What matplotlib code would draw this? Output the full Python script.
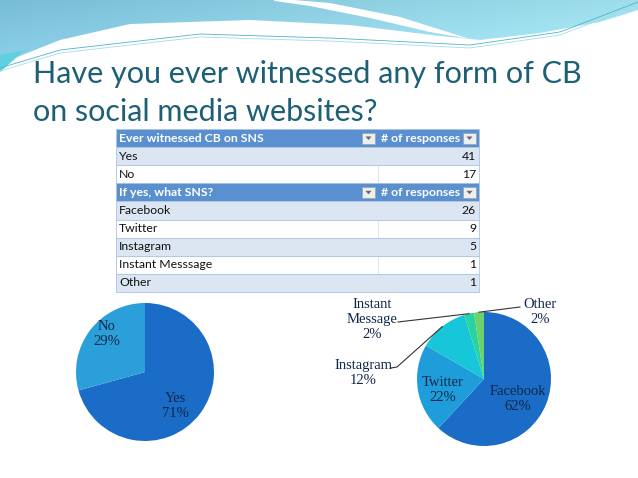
import numpy as np
import matplotlib
matplotlib.use("Agg")
import matplotlib.pyplot as plt
from matplotlib.patches import Rectangle, Polygon

# ---- data ----
title_lines = ["Have you ever witnessed any form of CB", "on social media websites?"]

header1 = ["Ever witnessed CB on SNS", "# of responses"]
witness_labels = ["Yes", "No"]
witness_counts = [41, 17]

header2 = ["If yes, what SNS?", "# of responses"]
sns_labels = ["Facebook", "Twitter", "Instagram", "Instant Messsage", "Other"]
sns_counts = [26, 9, 5, 1, 1]

left_pie_labels = ["Yes", "No"]
left_pie_pcts = [71, 29]
left_pie_colors = ["#1a6cc6", "#2a9fda"]

right_pie_labels = ["Facebook", "Twitter", "Instagram", "Instant\nMessage", "Other"]
right_pie_pcts = [62, 22, 12, 2, 2]
right_pie_colors = ["#1a6cc6", "#1f9ddb", "#17c6d9", "#27d3a0", "#6cd26a"]

W, H = 638, 478
fig = plt.figure(figsize=(W / 100, H / 100), dpi=100)
bg = fig.add_axes([0, 0, 1, 1])
bg.set_xlim(0, W)
bg.set_ylim(H, 0)
bg.axis("off")
bg.set_zorder(5)


def smooth(pts, n=200):
    xs, ys = zip(*pts)
    xx = np.linspace(xs[0], xs[-1], n)
    return xx, np.interp(xx, xs, ys)


# ---- background swoosh ----
gx = np.linspace(0, 1, 300)
gy = np.linspace(0, 1, 80)
GX, GY = np.meshgrid(gx, gy)
c_left = np.array([0.47, 0.74, 0.84])
c_right = np.array([0.62, 0.87, 0.92])
img = c_left[None, None, :] * (1 - GX[..., None]) + c_right[None, None, :] * GX[..., None]
img = np.clip(img + 0.10 * GY[..., None], 0, 1)
im = bg.imshow(img, extent=[0, W, 80, 0], aspect="auto", zorder=0)

band = [(0, 0), (W, 0), (W, 10), (600, 22), (540, 33), (480, 40), (440, 36), (350, 25),
        (250, 20), (130, 24), (60, 40), (0, 64)]
poly = Polygon(band, closed=True, facecolor="none", edgecolor="none")
bg.add_patch(poly)
im.set_clip_path(poly)

# white swoosh through the band
sw = [(270, -2), (330, 3), (400, 17), (470, 39), (430, 32), (370, 18), (310, 6), (275, 1)]
bg.add_patch(Polygon(sw, closed=True, facecolor="white", edgecolor="none", zorder=1))
bg.add_patch(Polygon([(0, 55), (25, 50), (0, 72)], closed=True, facecolor="#5fd0e0",
                     edgecolor="none", zorder=1))

# thin lines
for off, col in [(0, "#4fb3ca"), (3, "#a6dbe8")]:
    x, y = smooth([(0, 68 + off), (60, 50 + off), (200, 34 + off), (330, 38 + off),
                   (470, 45 + off), (560, 32 + off), (638, 2 + off)])
    bg.plot(x, y, color=col, lw=0.6, zorder=2)

# ---- title ----
for line, base in zip(title_lines, [83, 121]):
    bg.text(33, base, line, fontsize=22, family="Lato", color="#1d5f74",
            va="baseline", ha="left")

# ---- table ----
tx0, tx1, tsplit = 116, 479, 378
ty0, rh = 129, 18.1
hdr_col = "#5a8fd0"
light = "#dce6f3"
fs_tab = 8.8

rows = [("h", header1)]
rows += [("d", (l, c)) for l, c in zip(witness_labels, witness_counts)]
rows += [("h", header2)]
rows += [("d", (l, c)) for l, c in zip(sns_labels, sns_counts)]

stripe = 0
for i, (kind, content) in enumerate(rows):
    y = ty0 + i * rh
    if kind == "h":
        bg.add_patch(Rectangle((tx0, y), tx1 - tx0, rh, facecolor=hdr_col,
                               edgecolor="#a9c4e6", lw=0.6, zorder=3))
        bg.text(tx0 + 3, y + rh / 2, content[0], fontsize=fs_tab, family="Lato",
                weight="bold", color="white", va="center", ha="left", zorder=4)
        bg.text(tsplit + 3, y + rh / 2, content[1], fontsize=fs_tab, family="Lato",
                weight="bold", color="white", va="center", ha="left", zorder=4)
        for bx in (362, 463):
            bg.add_patch(Rectangle((bx, y + 3.5), 13, 11, facecolor="#eeeeee",
                                   edgecolor="#9aa8b8", lw=0.6, zorder=4))
            bg.add_patch(Polygon([(bx + 3.5, y + 7.5), (bx + 9.5, y + 7.5), (bx + 6.5, y + 11)],
                                 closed=True, facecolor="#666666", edgecolor="none", zorder=5))
        stripe = 0
    else:
        fc = light if stripe % 2 == 0 else "white"
        stripe += 1
        bg.add_patch(Rectangle((tx0, y), tx1 - tx0, rh, facecolor=fc,
                               edgecolor="#a9c4e6", lw=0.6, zorder=3))
        if fc == "white":
            bg.plot([tsplit, tsplit], [y + 1, y + rh - 1], color="#dde6f0", lw=0.8, zorder=4)
        bg.text(tx0 + 3, y + rh / 2, content[0], fontsize=fs_tab, family="Lato",
                color="#111111", va="center", ha="left", zorder=4)
        bg.text(tx1 - 3, y + rh / 2, str(content[1]), fontsize=fs_tab, family="Lato",
                color="#111111", va="center", ha="right", zorder=4)

# ---- pies ----
label_font = dict(family="Liberation Serif", fontsize=10.5, color="#0f2748",
                  ha="center", va="center", linespacing=1.2)


def pie_axes(cx, cy, r):
    return fig.add_axes([(cx - r) / W, 1 - (cy + r) / H, 2 * r / W, 2 * r / H])


# left pie
cxL, cyL, rL = 145, 372, 69
axL = pie_axes(cxL, cyL, rL)
axL.pie(witness_counts, colors=left_pie_colors, startangle=90, counterclock=False,
        wedgeprops=dict(linewidth=0))
axL.set_xlim(-1, 1)
axL.set_ylim(-1, 1)
axL.set_aspect("auto")
axL.axis("off")
posL = [(175, 406), (107, 334)]
for lab, p, (px, py) in zip(left_pie_labels, left_pie_pcts, posL):
    bg.text(px, py, f"{lab}\n{p}%", zorder=10, **label_font)

# right pie
cxR, cyR, rR = 484, 379, 67
axR = pie_axes(cxR, cyR, rR)
wedges, _ = axR.pie(sns_counts, colors=right_pie_colors, startangle=90, counterclock=False,
                    wedgeprops=dict(linewidth=0))
axR.set_xlim(-1, 1)
axR.set_ylim(-1, 1)
axR.set_aspect("auto")
axR.axis("off")
posR = [(518, 399), (443, 390), (363, 373), (372, 319), (540, 312)]
line_start = [None, None, (391, 368), (398, 322), (520, 307)]
line_knee = [None, None, (397, 367), None, None]
for w, lab, p, (px, py), ls, kn in zip(wedges, right_pie_labels, right_pie_pcts, posR,
                                         line_start, line_knee):
    bg.text(px, py, f"{lab}\n{p}%", zorder=10, **label_font)
    if ls is not None:
        mid = np.deg2rad((w.theta1 + w.theta2) / 2)
        ex = cxR + rR * np.cos(mid)
        ey = cyR - rR * np.sin(mid)
        xs = [ls[0]] + ([kn[0]] if kn else []) + [ex]
        ys = [ls[1]] + ([kn[1]] if kn else []) + [ey]
        bg.plot(xs, ys, color="#333333", lw=0.8, zorder=9)

fig.savefig("out.png", dpi=100)
